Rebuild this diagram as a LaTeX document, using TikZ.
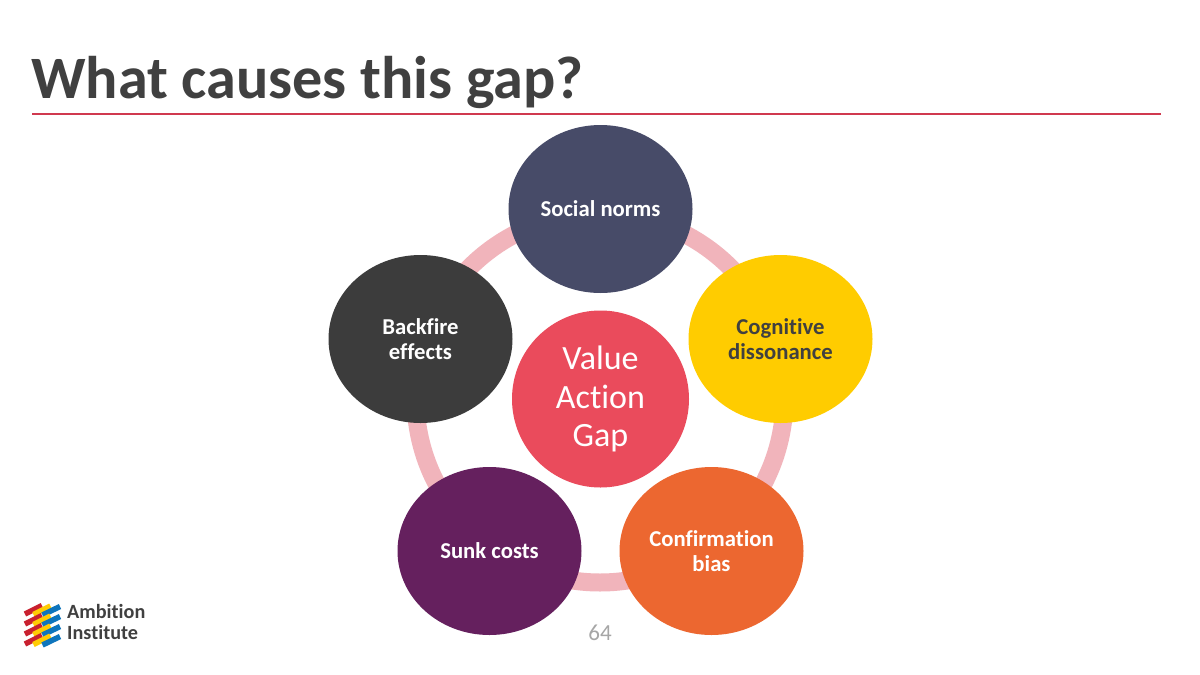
\documentclass[tikz,border=0pt]{standalone}
\usepackage{fontspec}
\setmainfont[Ligatures=NoCommon]{Carlito}
\usetikzlibrary{shapes.geometric}
\definecolor{titlegrey}{HTML}{404040}
\definecolor{rulered}{HTML}{D0394F}
\definecolor{ringpink}{HTML}{F1B4BB}
\definecolor{gapred}{HTML}{EA4B5C}
\definecolor{normsblue}{HTML}{474B68}
\definecolor{cogyellow}{HTML}{FFCC00}
\definecolor{biasorange}{HTML}{EC6730}
\definecolor{sunkpurple}{HTML}{65205E}
\definecolor{fireblack}{HTML}{3C3C3C}
\definecolor{logored}{HTML}{C8202F}
\definecolor{logoyellow}{HTML}{FFCB05}
\definecolor{logoblue}{HTML}{0F75BC}
\tikzset{
  cause/.style={ellipse,minimum width=184pt,minimum height=168pt,inner sep=0pt,align=center,
    text=white,font=\fontsize{22.7}{24.5}\selectfont\bfseries},
  stripe/.style={line width=5.5pt}
}
\begin{document}
\begin{tikzpicture}[x=1pt,y=-1pt]
        \useasboundingbox (0,0) rectangle (1200,675);
        \fill[white] (0,0) rectangle (1200,675);

        \node[anchor=west,inner sep=0pt,text=titlegrey,font=\fontsize{60.2}{62}\selectfont\bfseries] (title) at (31,82) {What causes this gap?};
        \coordinate (ruleleft) at (32,114);
        \coordinate (ruleright) at (1161,114);
        \draw[rulered,line width=1.5pt] (ruleleft) -- (ruleright); % title rule

        % ring goes under the circles
        \coordinate (hub) at (600,398);
        \draw[ringpink,line width=18pt] (hub) circle (184.5);

        \node[circle,fill=gapred,minimum size=177pt,inner sep=0pt,align=center,text=white,font=\fontsize{34}{38.7}\selectfont] (gap) at (600.5,399) {Value\\Action\\Gap};
        \node[cause,fill=normsblue] (norms) at (600.5,209) {Social norms};
        \node[cause,fill=cogyellow,text=titlegrey] (dissonance) at (780.5,339) {Cognitive\\dissonance};
        \node[cause,fill=biasorange] (bias) at (711.5,551) {Confirmation\\bias};
        \node[cause,fill=sunkpurple] (sunk) at (489.5,551) {Sunk costs};
        \node[cause,fill=fireblack] (backfire) at (420.5,339) {Backfire\\effects};

        \node[text=black!35,font=\fontsize{23}{26}\selectfont] (pageno) at (600,633) {64};

        % logo
        \foreach \i in {0,1,2,3} {
            \draw[stripe,logored] (25,{614+10*\i}) -- (42,{605.5+10*\i});
            \draw[stripe,logoyellow] (33.5,{614.5+10*\i}) -- (50.5,{606+10*\i});
            \draw[stripe,logoblue] (42.5,{615+10*\i}) -- (60,{606.5+10*\i});
        }
        \node[anchor=north west,inner sep=0pt,align=left,text=titlegrey,font=\fontsize{20.2}{21.5}\selectfont\bfseries] (brand) at (67,604) {Ambition\\Institute};
\end{tikzpicture}
\end{document}
